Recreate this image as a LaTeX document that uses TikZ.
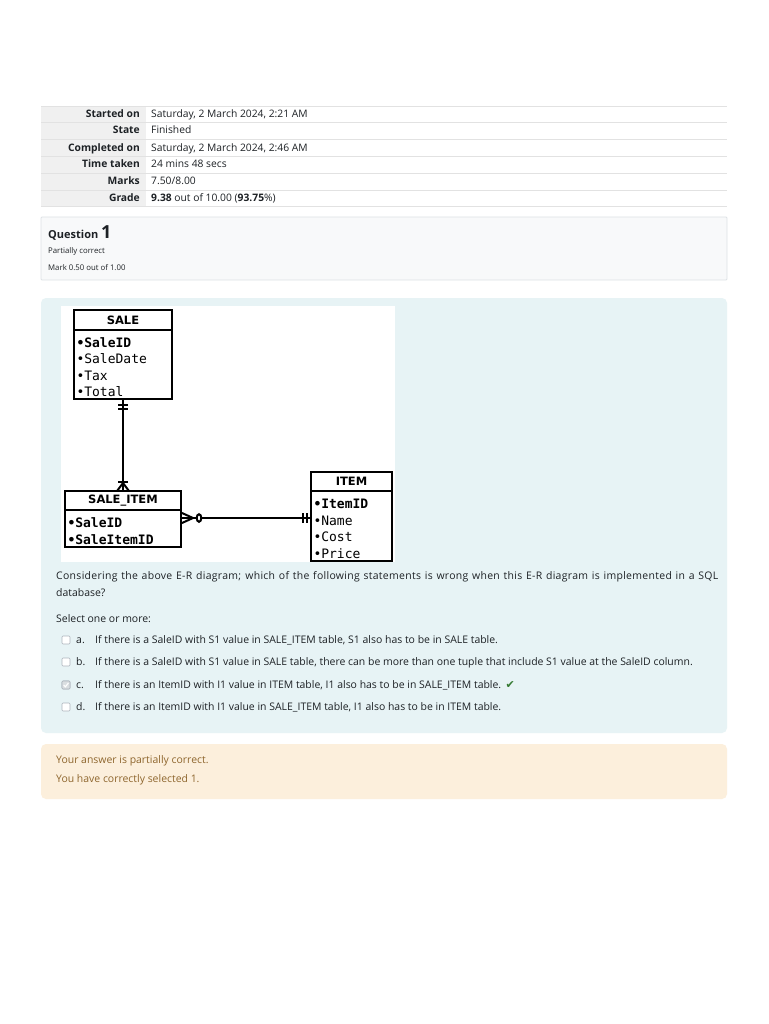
\documentclass[tikz,border=0pt]{standalone}
\usepackage{fontspec}
\setmainfont{Open Sans}
\newfontfamily\erfont{DejaVu Sans Mono}
\newfontfamily\erhead{DejaVu Sans}
\newfontfamily\symfont{DejaVu Sans}
\usetikzlibrary{positioning,calc}

\definecolor{ink}{HTML}{1D2125}
\definecolor{rowline}{HTML}{E2E2E2}
\definecolor{labelbg}{HTML}{F0F0F0}
\definecolor{qboxbg}{HTML}{F8F9FA}
\definecolor{qboxline}{HTML}{DEE2E6}
\definecolor{tealbg}{HTML}{E7F3F5}
\definecolor{fbbg}{HTML}{FCEFDC}
\definecolor{fbtext}{HTML}{8E662E}
\definecolor{okgreen}{HTML}{357A32}
\definecolor{chkgray}{HTML}{ADB5BD}

\begin{document}
\begin{tikzpicture}[x=1pt,y=-1pt,
  ent/.style={draw, line width=2pt, inner sep=0pt, outer sep=0pt,
    font=\erhead\bfseries\fontsize{11.5}{12}\selectfont},
  attrs/.style={draw, line width=2pt, inner xsep=2.5pt, inner ysep=0pt, outer sep=0pt,
    align=left, font=\erfont\fontsize{13}{16.5}\selectfont},
  erline/.style={line width=2pt},
  lbl/.style={anchor=base east, inner sep=0pt, text=ink, font=\bfseries\fontsize{10.3}{12}\selectfont},
  val/.style={anchor=base west, inner sep=0pt, text=ink, font=\fontsize{10.3}{12}\selectfont},
  opt/.style={anchor=base west, inner sep=0pt, text=ink, font=\fontsize{10.45}{12}\selectfont},
  chk/.style={draw=chkgray, line width=0.6pt, fill=white, rounded corners=1pt, minimum size=8pt, inner sep=0pt},
]
  % page
  \useasboundingbox[fill=white] (0,0) rectangle (768,1024);

  % attempt summary table
  \fill[labelbg] (41,106) rectangle (146,206);
  \foreach \yy in {106,122,139,156,173,190,206}
    \draw[rowline, line width=0.8pt] (41,\yy) -- (727,\yy);
  \foreach \lab/\val/\yy [count=\i] in {
      Started on/{Saturday, 2 March 2024, 2:21 AM}/118,
      State/Finished/134,
      Completed on/{Saturday, 2 March 2024, 2:46 AM}/152,
      Time taken/24 mins 48 secs/168,
      Marks/{7.50/8.00}/185,
      Grade/{\textbf{9.38} out of 10.00 (\textbf{93.75}\%)}/202}{
    \node[lbl] (lab\i) at (140,\yy) {\lab};
    \node[val] (val\i) at (151,\yy) {\val};
  }

  % question info box
  \draw[qboxline, fill=qboxbg, line width=0.8pt, rounded corners=1pt] (41,217) rectangle (727,280);
  \node[anchor=base west, text=ink, inner sep=0pt] (qhead) at (48,238)
    {\bfseries\fontsize{11}{12}\selectfont Question \fontsize{18}{20}\selectfont 1};
  \node[anchor=base west, text=ink, inner sep=0pt, font=\fontsize{7.8}{9}\selectfont] (qstate) at (48,253) {Partially correct};
  \node[anchor=base west, text=ink, inner sep=0pt, font=\fontsize{7.8}{9}\selectfont] (qmark) at (48,270) {Mark 0.50 out of 1.00};

  % question body
  \fill[tealbg, rounded corners=5pt] (41,298) rectangle (727,733);
  \fill[white] (61,306) rectangle (395,562);

  % E-R diagram
  \node[ent, minimum width=98pt, minimum height=20pt] (sale) at (123,320) {SALE};
  \node[attrs, text width=93pt, minimum height=69pt, below=0pt of sale] (saleb)
    {\rule{0pt}{15pt}\textbf{•SaleID}\\•SaleDate\\•Tax\\•Total};
  \node[ent, minimum width=116pt, minimum height=19pt] (salei) at (123,500.5) {SALE\_ITEM};
  \node[attrs, text width=111pt, minimum height=37pt, below=0pt of salei] (saleib)
    {\rule{0pt}{15pt}\textbf{•SaleID}\\\textbf{•SaleItemID}};
  \node[ent, minimum width=81pt, minimum height=19pt] (item) at (351.5,481.5) {ITEM};
  \node[attrs, text width=76pt, minimum height=70pt, below=0pt of item] (itemb)
    {\rule{0pt}{15pt}\textbf{•ItemID}\\•Name\\•Cost\\•Price};

  % SALE -- SALE_ITEM (one and only one / one or many)
  \draw[erline] (saleb.south) -- (salei.north);
  \draw[erline] ($(saleb.south)+(-5,6)$) -- ++(10,0);
  \draw[erline] ($(saleb.south)+(-5,10)$) -- ++(10,0);
  \draw[erline] ($(salei.north)+(-5,-9)$) -- ++(10,0);
  \draw[erline] ($(salei.north)+(-6,0)$) -- ($(salei.north)+(0,-8)$) -- ($(salei.north)+(6,0)$);

  % SALE_ITEM -- ITEM (zero or many / one and only one)
  \coordinate (lnA) at ($(saleib.north east)+(0,8)$);
  \coordinate (lnB) at (lnA -| itemb.west);
  \draw[erline] (lnA) -- (lnB);
  \draw[erline] ($(lnA)+(1,-5)$) -- ($(lnA)+(12,0)$) -- ($(lnA)+(1,5)$);
  \draw[erline, fill=white] ($(lnA)+(18,0)$) ellipse (2.3 and 3.8);
  \draw[erline] ($(lnB)+(-8,-5)$) -- ++(0,10);
  \draw[erline] ($(lnB)+(-4,-5)$) -- ++(0,10);

  % question text and answers
  \node[opt] (qtext1) at (56,579) {\addfontfeatures{LetterSpace=3}\makebox[662pt][s]{Considering the above E-R diagram; which of the following statements is wrong when this E-R diagram is implemented in a SQL}};
  \node[opt] (qtext2) at (56,596) {database?};
  \node[opt] (select) at (56,622) {Select one or more:};
  \foreach \ltr/\txt/\yy in {
      a/{If there is a SaleID with S1 value in SALE\_ITEM table, S1 also has to be in SALE table.}/643.5,
      b/{If there is a SaleID with S1 value in SALE table, there can be more than one tuple that include S1 value at the SaleID column.}/665.5,
      c/{If there is an ItemID with I1 value in ITEM table, I1 also has to be in SALE\_ITEM table.}/688.5,
      d/{If there is an ItemID with I1 value in SALE\_ITEM table, I1 also has to be in ITEM table.}/710.5}{
    \node[chk] (box\ltr) at (66,\yy-3.5) {};
    \node[opt] (let\ltr) at (76,\yy) {\ltr.};
    \node[opt] (opt\ltr) at (95,\yy) {\txt};
  }
  % the selected answer
  \node[chk, fill=chkgray!45] at (boxc) {};
  \draw[white, line width=1.1pt] ($(boxc)+(-2.3,0)$) -- ($(boxc)+(-0.6,1.8)$) -- ($(boxc)+(2.4,-2)$);
  \node[anchor=base west, text=okgreen, inner sep=0pt, font=\symfont\fontsize{11}{12}\selectfont]
    (okmark) at ($(optc.base east)+(4,0)$) {✔};

  % feedback
  \fill[fbbg, rounded corners=5pt] (41,744) rectangle (727,799);
  \node[opt, text=fbtext] (fb1) at (56,763.5) {Your answer is partially correct.};
  \node[opt, text=fbtext] (fb2) at (56,782.5) {You have correctly selected 1.};
\end{tikzpicture}
\end{document}
